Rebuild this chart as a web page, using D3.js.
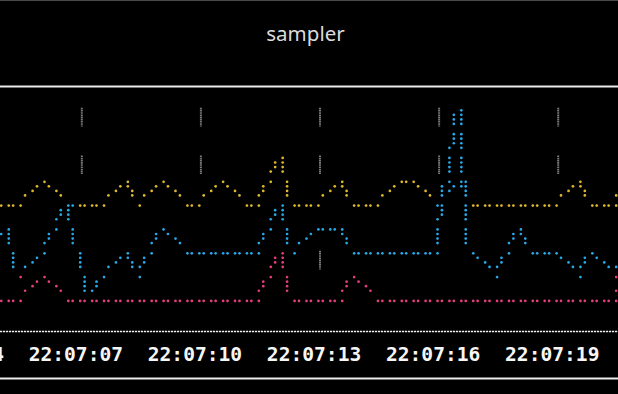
<!DOCTYPE html>
<html>
<head>
<meta charset="utf-8">
<script src="https://cdnjs.cloudflare.com/ajax/libs/d3/7.8.5/d3.min.js"></script>
<style>
html, body { margin: 0; padding: 0; background: #000; }
svg { display: block; }
</style>
</head>
<body>
<div id="chart"></div>
<script>
var sampleTimes, yellowValues, blueValues, pinkValues, tickTimes, seriesColors;
var cellW, cellH, dotDx, dotDy, originX, originY, svg, x, y, cells, setPoint, brailleLine, dotX, dotY, parseTime, parseTick, formatTick;

// sample timestamps (22:07:xx.xxx) and the three series, in chart rows (0 = bottom)
sampleTimes = ["22:07:04.600", "22:07:05.200", "22:07:05.500", "22:07:06.100", "22:07:06.700", "22:07:07.300", "22:07:07.600",
  "22:07:08.200", "22:07:08.500", "22:07:09.100", "22:07:09.700", "22:07:10.000", "22:07:10.600", "22:07:11.200", "22:07:11.500",
  "22:07:12.100", "22:07:12.400", "22:07:13.000", "22:07:13.600", "22:07:13.900", "22:07:14.500", "22:07:15.100", "22:07:15.400",
  "22:07:16.000", "22:07:16.300", "22:07:16.600", "22:07:16.900", "22:07:17.500", "22:07:18.100", "22:07:18.400", "22:07:19.000",
  "22:07:19.600", "22:07:19.900", "22:07:20.500", "22:07:20.800"];
yellowValues = [4, 4, 4, 5, 4, 4, 4, 5, 4, 5, 4, 4, 5, 4, 4, 6, 4, 4, 5, 4, 4, 5, 5, 4, null, 5, 4, 4, 4, 4, 4, 5, 4, 4, 5];
blueValues = [2, 3, 1, 2, 4, 0, 1, 2, 1, 3, 2, 2, 2, 2, 2, 4, 2, 3, 3, 2, 2, 2, 2, 2, 5, 8, 2, 1, 3, 2, 2, 1, 2, 1, 2];
pinkValues = [0, 0, 0, 1, 0, 0, 0, 0, 0, 0, 0, 0, 0, 0, 0, 2, 0, 0, 0, 1, 0, 0, 0, 0, 0, 0, 0, 0, 0, 0, 0, 0, 0, 0, 1];
tickTimes = ["22:07:04", "22:07:07", "22:07:10", "22:07:13", "22:07:16", "22:07:19"];
seriesColors = ["#dfb82e", "#29a8e8", "#e43d7d"];

// terminal cell geometry
cellW = 11.91;
cellH = 23.83;
dotDx = 4.4;
dotDy = 4.55;
originX = -3.16;
originY = 110.3;

parseTime = d3.timeParse("%H:%M:%S.%L");
parseTick = d3.timeParse("%H:%M:%S");
formatTick = d3.timeFormat("%H:%M:%S");

x = d3.scaleTime().domain([parseTick("22:07:07"), parseTick("22:07:10")]).range([7, 17]);
y = d3.scaleLinear().domain([0, 8]).range([8, 0]);

dotX = function(c) {
  var j = Math.floor(c / 2);
  return originX + cellW * j + dotDx * (c - 2 * j);
};

dotY = function(r) {
  var g = Math.floor(r / 4);
  return originY + cellH * g + dotDy * (r - 4 * g);
};

cells = {};

setPoint = function(c, r, color) {
  var key = Math.floor(c / 2) + "," + Math.floor(r / 4);
  if (!cells[key]) {
    cells[key] = {dots: {}, color: color};
  }
  cells[key].dots[c + "," + r] = [c, r];
  cells[key].color = color;
};

brailleLine = function(p0, p1, color) {
  var xdiff = Math.abs(p1[0] - p0[0]), ydiff = Math.abs(p1[1] - p0[1]);
  var xdir = p0[0] <= p1[0] ? 1 : -1, ydir = p0[1] <= p1[1] ? 1 : -1;
  var n = Math.max(xdiff, ydiff), i, px, py;
  for (i = 0; i <= n; i++) {
    px = p0[0] + (xdiff ? i * xdiff / n * xdir : 0);
    py = p0[1] + (ydiff ? i * ydiff / n * ydir : 0);
    setPoint(Math.trunc(px), Math.trunc(py), color);
  }
};

[yellowValues, blueValues, pinkValues].forEach(function(values, s) {
  var pts = [];
  values.forEach(function(v, i) {
    if (v == null) return;
    pts.push([2 * Math.round(x(parseTime(sampleTimes[i]))), 4 * Math.round(y(v))]);
  });
  pts.forEach(function(p, i) {
    brailleLine(i === 0 ? p : pts[i - 1], p, seriesColors[s]);
  });
});

svg = d3.select("#chart").append("svg").attr("width", 618).attr("height", 394).style("background", "#000");

svg.append("line").attr("x1", 0).attr("x2", 618).attr("y1", 0.5).attr("y2", 0.5).attr("stroke", "#4a4a4a").attr("stroke-width", 1);

svg.append("text").attr("x", 305.5).attr("y", 40.5).attr("text-anchor", "middle")
  .style("font", "20.5px 'Noto Sans', sans-serif").attr("fill", "#dcdcdc").text("sampler");

svg.append("line").attr("x1", 0).attr("x2", 618).attr("y1", 86.5).attr("y2", 86.5).attr("stroke", "#ececec").attr("stroke-width", 1.8);

// vertical grid marks on every other row, hidden where braille dots sit
tickTimes.forEach(function(t) {
  var j = Math.round(x(parseTick(t))), g, gx = originX + cellW * j + 1.6;
  for (g = 0; g <= 8; g += 2) {
    if (cells[j + "," + g]) continue;
    svg.append("line").attr("x1", gx).attr("x2", gx)
      .attr("y1", dotY(4 * g) - 2.5).attr("y2", dotY(4 * g + 3) + 2.5)
      .attr("stroke", "#7a7a7a").attr("stroke-width", 2).attr("stroke-dasharray", "1.6,0.6");
  }
});

Object.keys(cells).forEach(function(key) {
  var cell = cells[key];
  svg.append("g").selectAll("circle").data(Object.values(cell.dots)).enter().append("circle")
    .attr("cx", function(d) { return dotX(d[0]); })
    .attr("cy", function(d) { return dotY(d[1]); })
    .attr("r", 1.35)
    .attr("fill", cell.color);
});

svg.append("line").attr("x1", 0).attr("x2", 618).attr("y1", 331.5).attr("y2", 331.5)
  .attr("stroke", "#f0f0f0").attr("stroke-width", 1.6).attr("stroke-dasharray", "2.2,0.8");

svg.append("g").selectAll("text").data(tickTimes).enter().append("text")
  .attr("x", function(d) { return originX + cellW * Math.round(x(parseTick(d))) + 1.6 - cellW / 2; })
  .attr("y", 360.5)
  .attr("text-anchor", "middle")
  .style("font", "bold 19.6px 'DejaVu Sans Mono', monospace")
  .attr("fill", "#f6f6f6")
  .text(function(d) { return formatTick(parseTick(d)); });

svg.append("line").attr("x1", 0).attr("x2", 618).attr("y1", 378.5).attr("y2", 378.5).attr("stroke", "#ececec").attr("stroke-width", 1.8);
</script>
</body>
</html>
